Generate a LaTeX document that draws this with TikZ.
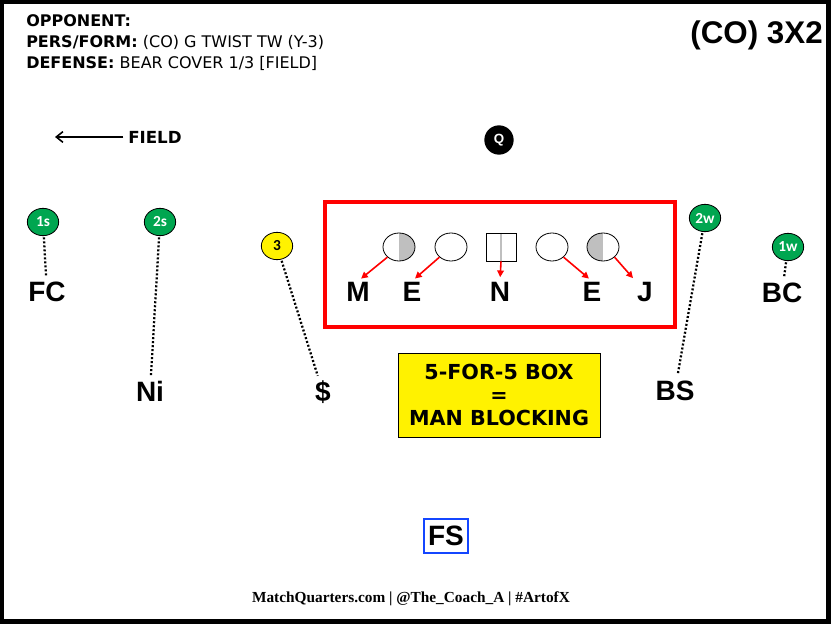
\documentclass[tikz,border=0pt]{standalone}
\usepackage{fontspec}
\setmainfont{DejaVu Sans}
\newfontfamily\lsans{Liberation Sans}
\newfontfamily\lserif{Liberation Serif}
\newfontfamily\carl{Carlito}
\usetikzlibrary{arrows.meta,shapes.geometric}
\definecolor{dgreen}{RGB}{0,166,80}
\definecolor{lgray}{RGB}{191,191,191}
\definecolor{fsblue}{RGB}{20,70,255}
\begin{document}
\begin{tikzpicture}[x=0.75pt,y=-0.75pt,
 hdr/.style={anchor=base west, inner sep=0, font=\fontsize{12}{14}\selectfont},
 plabel/.style={anchor=base, inner sep=1pt, font=\lsans\bfseries\fontsize{21}{24}\selectfont},
 gcirc/.style={ellipse, draw=black, line width=0.6pt, fill=dgreen, minimum width=23.5pt, minimum height=20.5pt, inner sep=0, text=white, font=\carl\bfseries\fontsize{11.5}{13}\selectfont},
 ycirc/.style={gcirc, fill=yellow, text=black},
 olc/.style={ellipse, draw=black, line width=0.6pt, fill=white, minimum width=24pt, minimum height=21pt, inner sep=0},
 dotline/.style={line width=1.7pt, dash pattern=on 1.5pt off 1.5pt, shorten >=3pt, shorten <=1pt},
 rarrow/.style={red, line width=1.2pt, -{Triangle[length=5pt,width=5pt]}, shorten >=3pt},
]
\useasboundingbox (0,0) rectangle (840,624);
\fill[black] (0,0) rectangle (831,624);
\fill[white] (4,4) rectangle (826,619);

% header
\node[hdr] (opp) at (26,27) {\bfseries OPPONENT:};
\node[hdr] (pers) at (26,48) {{\bfseries PERS/FORM:} (CO) G TWIST TW (Y-3)};
\node[hdr] (def) at (26,69) {{\bfseries DEFENSE:} BEAR COVER 1/3 [FIELD]};
\node[anchor=base east, inner sep=0, font=\lsans\bfseries\fontsize{23.5}{26}\selectfont] (title) at (823,44) {(CO) 3X2};

% Q
\node[circle, fill=black, minimum size=22pt, inner sep=0, text=white, font=\lsans\bfseries\fontsize{10}{11}\selectfont] (q) at (499,140) {Q};

% field arrow
\node[anchor=west, inner sep=0, font=\bfseries\fontsize{12.5}{14}\selectfont] (field) at (128,137) {FIELD};
\coordinate (fieldtip) at (55,137);
\draw[line width=1.2pt, -{Straight Barb[length=5pt,width=8pt]}, shorten <=3.5pt] (field.west) -- (fieldtip);

% defenders circles
\node[gcirc] (c1s) at (43,222) {1s};
\node[gcirc] (c2s) at (160,222) {2s};
\node[ycirc] (c3) at (277,246) {3};
\node[gcirc] (c2w) at (705,218) {2w};
\node[gcirc] (c1w) at (788,247) {1w};

\node[plabel] (fc) at (47,302) {FC};
\node[plabel] (ni) at (150,402) {Ni};
\node[plabel] (sf) at (323,402) {\$};
\node[plabel] (bs) at (675,400) {BS};
\node[plabel] (bc) at (782,303) {BC};

\draw[dotline] (c1s) -- (fc);
\draw[dotline] (c2s) -- (ni);
\draw[dotline] (c3) -- (sf);
\draw[dotline] (c2w) -- (bs);
\draw[dotline] (c1w) -- (bc);

% box
\draw[red, line width=3pt] (325,202) rectangle (675,327);

\node[olc, path picture={\fill[lgray] (path picture bounding box.north) rectangle (path picture bounding box.south east);}] (ol1) at (399,247) {};
\node[olc] (ol2) at (451,247) {};
\node[draw, line width=0.6pt, fill=white, minimum width=22.5pt, minimum height=21pt, inner sep=0, path picture={\draw[lgray, line width=2.2pt] (path picture bounding box.north) -- (path picture bounding box.south);}] (ctr) at (501,247) {};
\node[olc] (ol4) at (552,247) {};
\node[olc, path picture={\fill[lgray] (path picture bounding box.north west) rectangle (path picture bounding box.south);}] (ol5) at (603,247) {};

\node[plabel] (m) at (358,302) {M};
\node[plabel] (e1) at (412,302) {E};
\node[plabel] (n) at (500,302) {N};
\node[plabel] (e2) at (592,302) {E};
\node[plabel] (j) at (645,302) {J};

\draw[rarrow] (ol1.south west) -- (m.north);
\draw[rarrow] (ol2.south west) -- (e1.north);
\draw[rarrow] (ctr.south) -- (n.north);
\draw[rarrow] (ol4.south east) -- (e2.north);
\draw[rarrow] (ol5.south east) -- (j.north west);

% yellow box
\node[draw=black, line width=0.6pt, fill=yellow, minimum width=151.5pt, minimum height=63pt, align=center, font=\bfseries\fontsize{15.5}{17.6}\selectfont, inner sep=0] (yb) at (499,395) {5-FOR-5 BOX\\=\\MAN BLOCKING};

% FS
\node[draw=fsblue, line width=1.5pt, minimum width=33pt, minimum height=25pt, inner sep=0, font=\lsans\bfseries\fontsize{21}{24}\selectfont] (fs) at (446,536) {FS};

% footer
\node[anchor=base, inner sep=0, font=\lserif\bfseries\fontsize{11.5}{13}\selectfont] (foot) at (411,602) {MatchQuarters.com | @The\_Coach\_A | \#ArtofX};
\end{tikzpicture}
\end{document}
